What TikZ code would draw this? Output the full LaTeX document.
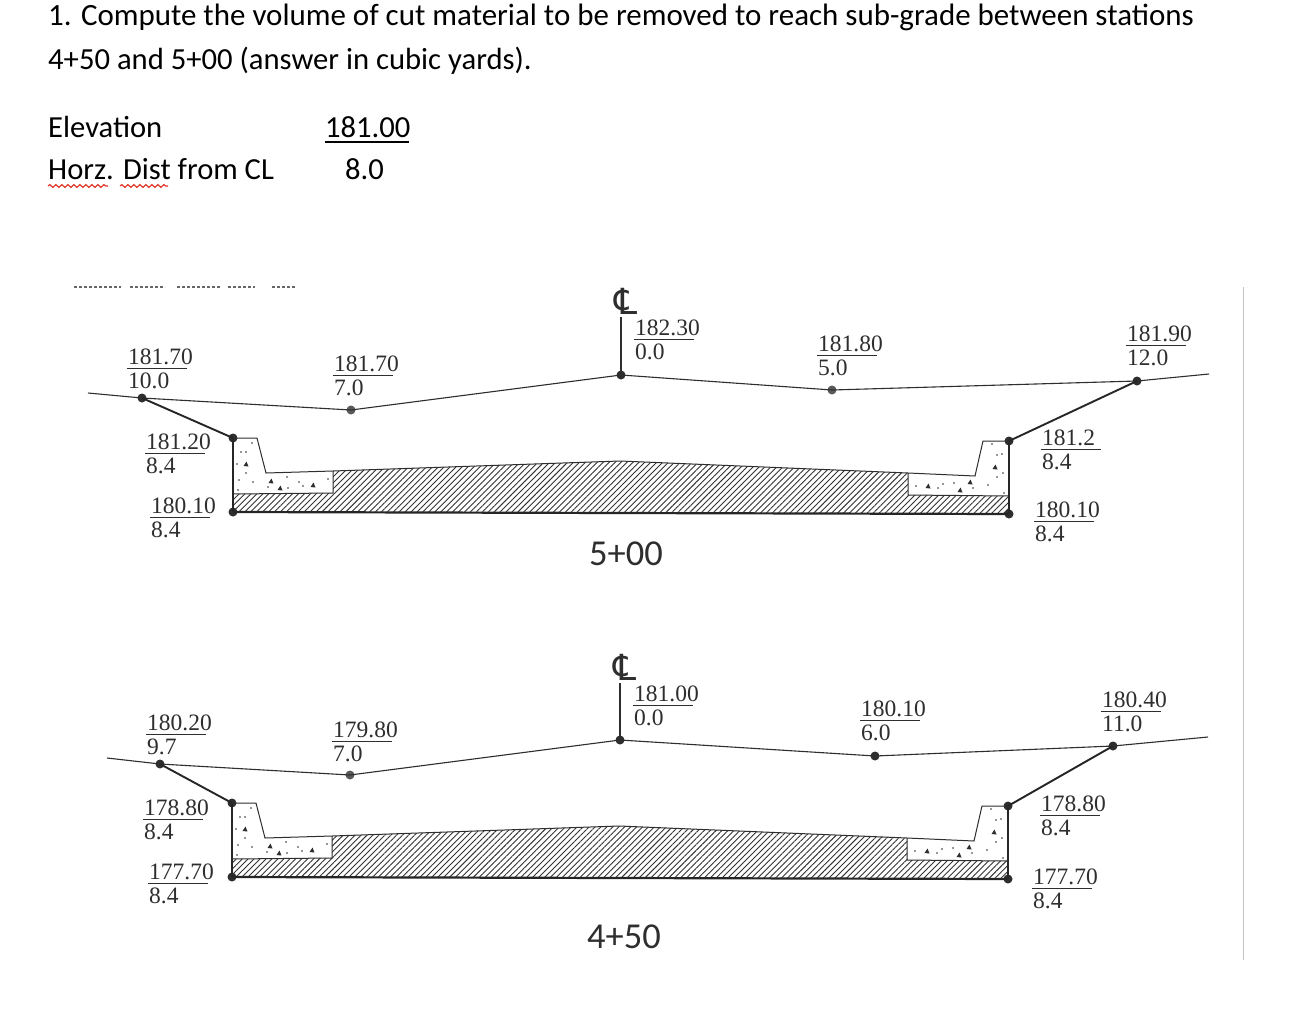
\documentclass[tikz,border=0pt]{standalone}
\usepackage{fontspec}
\usetikzlibrary{patterns.meta,decorations.pathmorphing}
\newfontfamily\docfont{Carlito}
\newfontfamily\scanfont{Liberation Serif}
\newfontfamily\symbolfont{DejaVu Sans}
\definecolor{inkgrey}{HTML}{2E2E2E}
\definecolor{squiggle}{HTML}{E0352B}
\definecolor{framegrey}{HTML}{C4C4C4}
\tikzset{
  doctext/.style={anchor=base west,inner sep=0pt,font=\docfont\fontsize{30.6}{31}\selectfont,text=black},
  questext/.style={anchor=base west,inner sep=0pt,font=\docfont\fontsize{30.95}{31}\selectfont,text=black},
  questwo/.style={anchor=base west,inner sep=0pt,font=\docfont\fontsize{30.65}{31}\selectfont,text=black},
  sectitle/.style={anchor=base west,inner sep=0pt,font=\docfont\fontsize{36.5}{37}\selectfont,text=inkgrey},
  scantext/.style={anchor=base west,inner sep=0pt,font=\scanfont\fontsize{23.5}{24}\selectfont,text=inkgrey},
  cltext/.style={anchor=center,inner sep=0pt,font=\symbolfont\fontsize{36}{36}\selectfont,text=inkgrey},
  gpoint/.style={circle,fill=inkgrey,inner sep=0pt,minimum size=9pt},
  ground/.style={draw=inkgrey,line width=1.1pt},
  slope/.style={draw=black!85,line width=1.9pt},
  wall/.style={draw=black!85,line width=2.2pt},
  thin edge/.style={draw=inkgrey,line width=1pt},
  hatching/.style={pattern={Lines[angle=45,distance=4.2pt,line width=0.9pt]},pattern color=black!80},
  speck/.style={fill=inkgrey,draw=none},
  red wave/.style={draw=squiggle,line width=1.2pt,decorate,decoration={snake,amplitude=1.4pt,segment length=6pt}}
}
\newcommand{\stationlabel}[5]{% name, x, y, top, bottom
  \node[scantext] (#1t) at (#2,#3) {#4};
  \node[scantext] (#1b) at (#2,#3+24) {#5};
  \draw[inkgrey,line width=0.9pt] (#2-1,#3+4) -- ++(60,0);
}
\newcommand{\centerlinemark}[3]{% suffix, x, y of the symbol centre
  \node[cltext] (cl#1) at (#2,#3) {^^^^2104};
}
\def\dotspeckxy#1/#2\relax{\fill[speck] (#1,#2) circle (0.9pt);}
\def\trispeckxy#1/#2\relax{\fill[speck] (#1-2.5,#2+2) -- ++(5,0.5) -- ++(-2,-5) -- cycle;}
\newcommand{\dotspeck}[1]{\edef\temp{#1}\expandafter\dotspeckxy\temp\relax}
\newcommand{\trispeck}[1]{\edef\temp{#1}\expandafter\trispeckxy\temp\relax}
\newcommand{\roadbody}[1]{%
  \fill[hatching] (233,494) -- (333,493) -- (333,471) -- (620,461) -- (908,473) -- (908,495) -- (1009,496) -- (1009,514) -- (233,512) -- cycle;
  \draw[thin edge] (233,494) -- (333,493) -- (333,471);
  \draw[thin edge] (908,473) -- (908,495) -- (1009,496);
  \draw[thin edge] (233,438) -- (257,438) -- (266,473) -- (333,471) -- (620,461) -- (908,473) -- (975,476) -- (983,441) -- (1009,441);
  \foreach \p in {252/443,241/452,246/452,237/464,246/473,239/480,253/482,287/477,268/487,288/488,299/482,303/486,328/479,238/490,
                  997/455,1002/454,1003/473,997/477,992/444,916/486,938/488,943/484,954/483,973/488,988/485,1004/493}
    {\dotspeck{\p}}
  \foreach \p in {246/464,271/481,280/488,313/485,995/467,928/486,960/490,970/482}
    {\trispeck{\p}}
  \node[gpoint] (lt#1) at (233,438) {};
  \node[gpoint] (lb#1) at (233,512) {};
  \node[gpoint] (rt#1) at (1009,441) {};
  \node[gpoint] (rb#1) at (1009,514) {};
  \draw[wall] (lt#1.center) -- (lb#1.center);
  \draw[wall] (rt#1.center) -- (rb#1.center);
  \draw[wall] (lb#1.center) -- (rb#1.center);
}
\begin{document}
\begin{tikzpicture}[x=1pt,y=-1pt]
\useasboundingbox[fill=white] (0,0) rectangle (1302,1018);
% header text
\node[questext] (q1) at (48,25) {1. Compute the volume of cut material to be removed to reach sub-grade between stations};
\node[questwo] (q2) at (48,69) {4+50 and 5+00 (answer in cubic yards).};
\node[doctext] (elev) at (48,137) {Elevation};
\node[doctext] (horz) at (48,179) {Horz. Dist from CL};
\node[doctext] (elevv) at (325,137) {181.00};
\node[doctext] (horzv) at (345,179) {8.0};
\draw[black,line width=1.6pt] (325,142) -- (409,142);
\draw[red wave] (48,186) -- (108,186);
\draw[red wave] (120,186) -- (168,186);
% cropped remnant of a line at the top of the scan
\foreach \a/\b in {74/121,130/165,177/220,228/255,272/295}
  \draw[black!60,line width=1.2pt,dash pattern=on 3pt off 2pt] (\a,287) -- (\b,287);
% page edge
\draw[framegrey,line width=1pt] (1243,287) -- (1243,960);

% ---------- 5+00 ----------
\roadbody{a}
\coordinate (ga0) at (88,393);
\node[gpoint] (ga1) at (142,398) {};
\node[gpoint,fill=black!65] (ga2) at (351,410) {};
\node[gpoint] (ga3) at (621,375) {};
\node[gpoint,fill=black!65] (ga4) at (832,390) {};
\node[gpoint] (ga5) at (1137,381) {};
\coordinate (ga6) at (1209,374);
\draw[ground] (ga0) -- (ga1.center) -- (ga2.center) -- (ga3.center) -- (ga4.center) -- (ga5.center) -- (ga6);
\draw[slope] (ga1.center) -- (lta.center);
\draw[slope] (rta.center) -- (ga5.center);
\centerlinemark{a}{626}{301}
\coordinate (cta) at (621,317);
\draw[inkgrey,line width=1.4pt] (cta) -- (ga3.center);
\stationlabel{la}{128}{364}{181.70}{10.0}
\stationlabel{lb}{334}{371}{181.70}{7.0}
\stationlabel{lc}{146}{449}{181.20}{8.4}
\stationlabel{ld}{151}{513}{180.10}{8.4}
\stationlabel{le}{635}{335}{182.30}{0.0}
\stationlabel{lf}{818}{351}{181.80}{5.0}
\stationlabel{lg}{1127}{341}{181.90}{12.0}
\node[scantext] (lht) at (1042,445) {181.2};
\node[scantext] (lhb) at (1042,469) {8.4};
\draw[inkgrey,line width=0.9pt] (1041,449) -- ++(60,0);
\stationlabel{li}{1035}{517}{180.10}{8.4}
\node[sectitle] (sa) at (589,565) {5+00};

% ---------- 4+50 ----------
\begin{scope}[shift={(-1,365)}]
\roadbody{b}
\end{scope}
\coordinate (gb0) at (107,758);
\node[gpoint] (gb1) at (160,764) {};
\node[gpoint,fill=black!65] (gb2) at (350,775) {};
\node[gpoint] (gb3) at (620,740) {};
\node[gpoint] (gb4) at (875,756) {};
\node[gpoint] (gb5) at (1113,746) {};
\coordinate (gb6) at (1208,737);
\draw[ground] (gb0) -- (gb1.center) -- (gb2.center) -- (gb3.center) -- (gb4.center) -- (gb5.center) -- (gb6);
\draw[slope] (gb1.center) -- (ltb.center);
\draw[slope] (rtb.center) -- (gb5.center);
\centerlinemark{b}{625}{667}
\coordinate (ctb) at (620,683);
\draw[inkgrey,line width=1.4pt] (ctb) -- (gb3.center);
\stationlabel{ma}{147}{730}{180.20}{9.7}
\stationlabel{mb}{333}{737}{179.80}{7.0}
\stationlabel{mc}{144}{815}{178.80}{8.4}
\stationlabel{md}{149}{879}{177.70}{8.4}
\stationlabel{me}{634}{701}{181.00}{0.0}
\stationlabel{mf}{861}{716}{180.10}{6.0}
\stationlabel{mg}{1102}{707}{180.40}{11.0}
\stationlabel{mh}{1041}{811}{178.80}{8.4}
\stationlabel{mi}{1033}{884}{177.70}{8.4}
\node[sectitle] (sb) at (587,948) {4+50};
\end{tikzpicture}
\end{document}
